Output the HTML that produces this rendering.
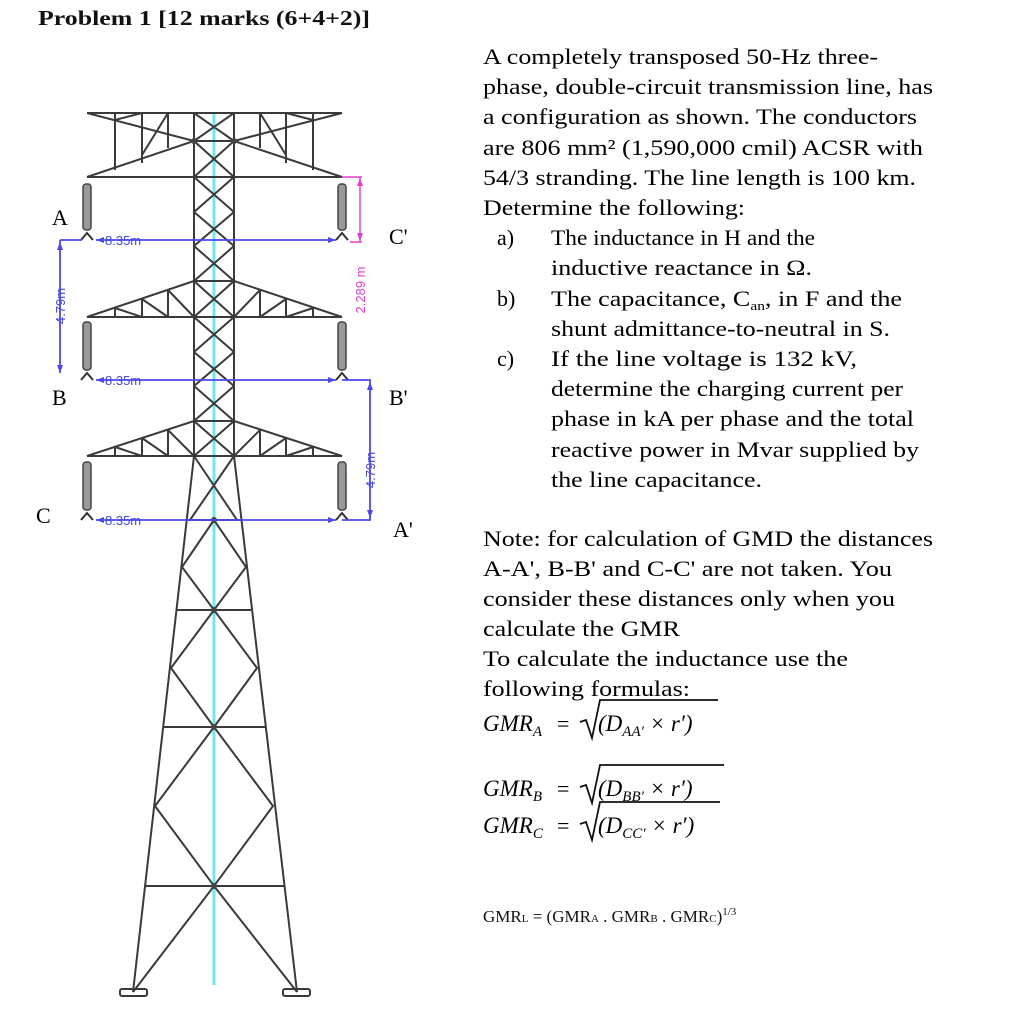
<!DOCTYPE html>
<html><head><meta charset="utf-8"><style>
html,body{margin:0;padding:0;background:#fff;}
svg{display:block;}
.t{font-family:"Liberation Serif",serif;font-size:22px;fill:#000;}
.m{font-family:"Liberation Serif",serif;font-style:italic;font-size:23px;fill:#000;}
.d{font-family:"Liberation Sans",sans-serif;font-size:13px;fill:#4646e6;}
</style></head><body>
<svg width="1024" height="1014" viewBox="0 0 1024 1014" xmlns="http://www.w3.org/2000/svg">
<rect width="1024" height="1014" fill="#fff"/>
<text x="38" y="25" font-family="Liberation Serif,serif" font-weight="bold" font-size="21" fill="#111" textLength="332" lengthAdjust="spacingAndGlyphs">Problem 1 [12 marks (6+4+2)]</text>

<line x1="214" y1="113" x2="214" y2="985" stroke="#6ee8ee" stroke-width="3"/>

<g stroke="#3a3a3a" stroke-width="2" fill="none">
<line x1="194" y1="113" x2="194" y2="456"/><line x1="234" y1="113" x2="234" y2="456"/>
<line x1="194" y1="456" x2="133" y2="992"/><line x1="234" y1="456" x2="297" y2="992"/>
<path d="M194 113L234 141M234 113L194 141 M194 141L234 177M234 141L194 177 M194 177L234 212M234 177L194 212 M194 212L234 246M234 212L194 246 M194 246L234 281M234 246L194 281 M194 281L234 317M234 281L194 317 M194 317L234 352M234 317L194 352 M194 352L234 386M234 352L194 386 M194 386L234 421M234 386L194 421 M194 421L234 456M234 421L194 456 M194 456L237 520M234 456L190 520"/>
<path d="M194 141H234M194 177H234M194 281H234M194 317H234M194 421H234M194 456H234"/>
<path d="M187 520H241 M176 610H251 M163 727H265 M145 886H285"/>
<path d="M214 520L182 567L214 610L246 567Z M214 610L171 668L214 727L257 668Z M214 727L155 806L214 886L273 806Z M214 886L133 992 M214 886L297 992"/>
<rect x="120" y="989" width="27" height="7" rx="2"/><rect x="283" y="989" width="27" height="7" rx="2"/>
<path d="M87 113H342 M87 113L194 141L87 177 M342 113L234 141L342 177 M87 177H342"/>
<path d="M115 113V170 M142 113V163 M115 120L142 113 M142 155L168 113 M168 113V148"/>
<path d="M313 113V170 M286 113V163 M313 120L286 113 M286 155L260 113 M260 113V148"/>
<path d="M194 281L87 317H194 M234 281L342 317H234"/>
<path d="M115 317V308 M142 317V299 M168 317V290 M115 308L142 317 M142 299L168 317 M168 290L194 317"/>
<path d="M313 317V308 M286 317V299 M260 317V290 M313 308L286 317 M286 299L260 317 M260 290L234 317"/>
<path d="M194 421L87 456H194 M234 421L342 456H234"/>
<path d="M115 456V447 M142 456V438 M168 456V430 M115 447L142 456 M142 438L168 456 M168 430L194 456"/>
<path d="M313 456V447 M286 456V438 M260 456V430 M313 447L286 456 M286 438L260 456 M260 430L234 456"/>
</g>
<g fill="#444">
<circle cx="194" cy="141" r="3"/><circle cx="234" cy="141" r="3"/>
<circle cx="214" cy="610" r="3"/><circle cx="214" cy="727" r="3"/><circle cx="214" cy="886" r="3"/><circle cx="214" cy="520" r="3"/>
</g>
<g fill="#999" stroke="#444" stroke-width="1.5">
<rect x="83" y="184" width="8" height="46" rx="3"/><rect x="338" y="184" width="8" height="46" rx="3"/>
<rect x="83" y="322" width="8" height="48" rx="3"/><rect x="338" y="322" width="8" height="48" rx="3"/>
<rect x="83" y="462" width="8" height="48" rx="3"/><rect x="338" y="462" width="8" height="48" rx="3"/>
</g>
<g stroke="#333" stroke-width="2" fill="none">
<path d="M81 240L87 233L93 240M336 240L342 233L348 240M81 380L87 373L93 380M336 380L342 373L348 380M81 520L87 513L93 520M336 520L342 513L348 520"/>
</g>
<g stroke="#4a4ae8" stroke-width="1.8" fill="none">
<line x1="96" y1="240" x2="336" y2="240"/><line x1="96" y1="380" x2="336" y2="380"/><line x1="96" y1="520" x2="336" y2="520"/>
<path d="M60 240H82 M60 240V373 M342 380H370V520H342"/>
</g>
<g fill="#4a4ae8" stroke="none">
<polygon points="96,240 104,237 104,243"/><polygon points="336,240 328,237 328,243"/>
<polygon points="96,380 104,377 104,383"/><polygon points="336,380 328,377 328,383"/>
<polygon points="96,520 104,517 104,523"/><polygon points="336,520 328,517 328,523"/>
<polygon points="60,242 57,250 63,250"/><polygon points="60,373 57,365 63,365"/>
<polygon points="370,382 367,390 373,390"/><polygon points="370,518 367,510 373,510"/>
</g>
<text class="d" x="105" y="245">8.35m</text>
<text class="d" x="105" y="385">8.35m</text>
<text class="d" x="105" y="525">8.35m</text>
<text class="d" transform="translate(65,306) rotate(-90)" text-anchor="middle">4.79m</text>
<text class="d" transform="translate(375,470) rotate(-90)" text-anchor="middle">4.79m</text>
<g stroke="#e040d0" stroke-width="1.5" fill="none">
<path d="M342 177H362 M360 177V242 M350 242H362"/>
</g>
<g fill="#e040d0">
<polygon points="360,178 357,186 363,186"/><polygon points="360,241 357,233 363,233"/>
</g>
<text transform="translate(365,290) rotate(-90)" text-anchor="middle" font-family="Liberation Sans,sans-serif" font-size="13" fill="#e040d0">2.289 m</text>

<text x="52" y="225" class="t">A</text>
<text x="389" y="244" class="t">C'</text>
<text x="52" y="405" class="t">B</text>
<text x="389" y="405" class="t">B'</text>
<text x="36" y="523" class="t">C</text>
<text x="393" y="537" class="t">A'</text>

<text class="t" x="483" y="64" textLength="395" lengthAdjust="spacingAndGlyphs">A completely transposed 50-Hz three-</text>
<text class="t" x="483" y="94" textLength="450" lengthAdjust="spacingAndGlyphs">phase, double-circuit transmission line, has</text>
<text class="t" x="483" y="124" textLength="434" lengthAdjust="spacingAndGlyphs">a configuration as shown. The conductors</text>
<text class="t" x="483" y="155" textLength="440" lengthAdjust="spacingAndGlyphs">are 806 mm² (1,590,000 cmil) ACSR with</text>
<text class="t" x="483" y="185" textLength="433" lengthAdjust="spacingAndGlyphs">54/3 stranding. The line length is 100 km.</text>
<text class="t" x="483" y="215" textLength="262" lengthAdjust="spacingAndGlyphs">Determine the following:</text>
<text class="t" x="497" y="245">a)</text>
<text class="t" x="551" y="245" textLength="264" lengthAdjust="spacingAndGlyphs">The inductance in H and the</text>
<text class="t" x="551" y="275" textLength="261" lengthAdjust="spacingAndGlyphs">inductive reactance in Ω.</text>
<text class="t" x="497" y="306">b)</text>
<text class="t" x="551" y="306" textLength="351" lengthAdjust="spacingAndGlyphs">The capacitance, C<tspan font-size="13" dy="4">an</tspan><tspan dy="-4">, in F and the</tspan></text>
<text class="t" x="551" y="336" textLength="339" lengthAdjust="spacingAndGlyphs">shunt admittance-to-neutral in S.</text>
<text class="t" x="497" y="366">c)</text>
<text class="t" x="551" y="366" textLength="306" lengthAdjust="spacingAndGlyphs">If the line voltage is 132 kV,</text>
<text class="t" x="551" y="396" textLength="352" lengthAdjust="spacingAndGlyphs">determine the charging current per</text>
<text class="t" x="551" y="426" textLength="363" lengthAdjust="spacingAndGlyphs">phase in kA per phase and the total</text>
<text class="t" x="551" y="457" textLength="368" lengthAdjust="spacingAndGlyphs">reactive power in Mvar supplied by</text>
<text class="t" x="551" y="487" textLength="211" lengthAdjust="spacingAndGlyphs">the line capacitance.</text>
<text class="t" x="483" y="546" textLength="450" lengthAdjust="spacingAndGlyphs">Note: for calculation of GMD the distances</text>
<text class="t" x="483" y="576" textLength="409" lengthAdjust="spacingAndGlyphs">A-A', B-B' and C-C' are not taken. You</text>
<text class="t" x="483" y="606" textLength="412" lengthAdjust="spacingAndGlyphs">consider these distances only when you</text>
<text class="t" x="483" y="636" textLength="197" lengthAdjust="spacingAndGlyphs">calculate the GMR</text>
<text class="t" x="483" y="666" textLength="365" lengthAdjust="spacingAndGlyphs">To calculate the inductance use the</text>
<text class="t" x="483" y="696" textLength="207" lengthAdjust="spacingAndGlyphs">following formulas:</text>

<text class="m" x="483" y="731">GMR<tspan font-size="15" dy="5">A</tspan></text>
<text class="t" x="557" y="731">=</text>
<path d="M580 722L586 720L592 738L600 700H718" stroke="#111" stroke-width="1.8" fill="none"/>
<text class="m" x="598" y="731">(D<tspan font-size="15" dy="5">AA′</tspan><tspan dy="-5"> × r′)</tspan></text>

<text class="m" x="483" y="796">GMR<tspan font-size="15" dy="5">B</tspan></text>
<text class="t" x="557" y="796">=</text>
<path d="M580 787L586 785L592 803L600 765H724" stroke="#111" stroke-width="1.8" fill="none"/>
<text class="m" x="598" y="796">(D<tspan font-size="15" dy="5">BB′</tspan><tspan dy="-5"> × r′)</tspan></text>

<text class="m" x="483" y="833">GMR<tspan font-size="15" dy="5">C</tspan></text>
<text class="t" x="557" y="833">=</text>
<path d="M580 824L586 822L592 840L600 802H720" stroke="#111" stroke-width="1.8" fill="none"/>
<text class="m" x="598" y="833">(D<tspan font-size="15" dy="5">CC′</tspan><tspan dy="-5"> × r′)</tspan></text>

<text x="483" y="922" font-family="Liberation Serif,serif" font-size="17" fill="#111">GMR<tspan font-size="11">L</tspan> = (GMR<tspan font-size="11">A</tspan>  . GMR<tspan font-size="11">B</tspan> . GMR<tspan font-size="11">C</tspan>)<tspan font-size="11" dy="-7">1/3</tspan></text>
</svg>
</body></html>
